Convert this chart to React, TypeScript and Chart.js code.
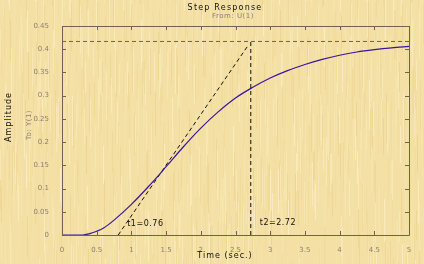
import React, { useEffect, useRef } from "react";
import { Chart, registerables } from "chart.js";

Chart.register(...registerables);

// Step response samples (time in seconds, amplitude)
const timeValues = [0, 0.25, 0.3, 0.4, 0.5, 0.6, 0.75, 1, 1.25, 1.5, 1.75, 2, 2.25, 2.5, 2.75, 3, 3.25, 3.5, 3.75, 4, 4.25, 4.5, 4.75, 5];
const amplitudeValues = [0, 0, 0, 0.003, 0.008, 0.015, 0.032, 0.066, 0.105, 0.147, 0.19, 0.23, 0.265, 0.295, 0.318, 0.338, 0.354, 0.367, 0.378, 0.387, 0.394, 0.399, 0.403, 0.406];

// Construction lines
const finalValue = 0.4167;
const t2 = 2.72;
const tangentX = [0.81, 2.69];
const tangentY = [0, 0.41];
const horizX = [0, 5];
const vertY = [0, finalValue];

// Axis ticks
const xTicks = [0, 0.5, 1, 1.5, 2, 2.5, 3, 3.5, 4, 4.5, 5];
const yTicks = [0, 0.05, 0.1, 0.15, 0.2, 0.25, 0.3, 0.35, 0.4, 0.45];

// Annotation labels
const t1Label = "t1=0.76";
const t2Label = "t2=2.72";
const t1LabelPos = [0.94, 0.024];
const t2LabelPos = [2.85, 0.026];

const FONT = "'DejaVu Sans', sans-serif";
const BG = "#f4e0a4";
const AXIS = "#6e6250";

const decorPlugin = {
  id: "decor",
  beforeDraw(chart: any) {
    const ctx = chart.ctx;
    ctx.save();
    ctx.fillStyle = BG;
    ctx.fillRect(0, 0, chart.width, chart.height);
    // subtle vertical wood-grain streaks (staggered segments)
    for (let x = 0; x < chart.width; x++) {
      const seg = 30 + Math.round(20 * Math.abs(Math.sin(x * 0.37)));
      const off = Math.round(seg * Math.abs(Math.sin(x * 1.31)));
      for (let b = -1; b * seg - off < chart.height; b++) {
        const y0 = b * seg - off;
        const s =
          Math.sin(x * 0.93 + b * 1.7) * 0.5 +
          Math.sin(x * 2.37 + b * 0.6) * 0.3 +
          Math.sin(x * 0.21 + b * 2.9) * 0.4;
        if (s > 0.35) {
          ctx.fillStyle = `rgba(255,250,225,${Math.min(0.45, (s - 0.35) * 0.6)})`;
          ctx.fillRect(x, y0, 1, seg);
        } else if (s < -0.45) {
          ctx.fillStyle = `rgba(225,190,110,${Math.min(0.35, (-s - 0.45) * 0.5)})`;
          ctx.fillRect(x, y0, 1, seg);
        }
      }
    }
    ctx.restore();
  },
  afterDatasetsDraw(chart: any) {
    const ctx = chart.ctx;
    const { left, right, top, bottom } = chart.chartArea;
    const xs = chart.scales.x;
    const ys = chart.scales.y;
    ctx.save();
    ctx.strokeStyle = AXIS;
    ctx.lineWidth = 1;
    ctx.beginPath();
    ctx.rect(Math.round(left) + 0.5, Math.round(top) + 0.5, Math.round(right - left), Math.round(bottom - top));
    ctx.stroke();
    const tl = 4;
    ctx.beginPath();
    xTicks.forEach((v) => {
      const px = Math.round(xs.getPixelForValue(v)) + 0.5;
      ctx.moveTo(px, bottom);
      ctx.lineTo(px, bottom - tl);
      ctx.moveTo(px, top);
      ctx.lineTo(px, top + tl);
    });
    yTicks.forEach((v) => {
      const py = Math.round(ys.getPixelForValue(v)) + 0.5;
      ctx.moveTo(left, py);
      ctx.lineTo(left + tl, py);
      ctx.moveTo(right, py);
      ctx.lineTo(right - tl, py);
    });
    ctx.stroke();
    ctx.restore();
  },
  afterDraw(chart: any) {
    const ctx = chart.ctx;
    const xs = chart.scales.x;
    const ys = chart.scales.y;
    ctx.save();
    ctx.textBaseline = "middle";
    ctx.textAlign = "center";
    ctx.fillStyle = "#111";
    ctx.font = `8px ${FONT}`;
    ctx.letterSpacing = "1.2px";
    ctx.fillText("Step Response", 225, 8);
    ctx.fillStyle = "#8a8070";
    ctx.font = `7px ${FONT}`;
    ctx.letterSpacing = "0.5px";
    ctx.fillText("From: U(1)", 233, 16);
    ctx.fillStyle = "#111";
    ctx.font = `8px ${FONT}`;
    ctx.letterSpacing = "1px";
    ctx.fillText("Time (sec.)", 225, 256);

    ctx.save();
    ctx.translate(9, 117);
    ctx.rotate(-Math.PI / 2);
    ctx.fillStyle = "#111";
    ctx.font = `8px ${FONT}`;
    ctx.letterSpacing = "1px";
    ctx.fillText("Amplitude", 0, 0);
    ctx.restore();

    ctx.save();
    ctx.translate(29, 125);
    ctx.rotate(-Math.PI / 2);
    ctx.fillStyle = "#8a8070";
    ctx.font = `7px ${FONT}`;
    ctx.letterSpacing = "0.5px";
    ctx.fillText("To: Y(1)", 0, 0);
    ctx.restore();

    ctx.fillStyle = "#111";
    ctx.textAlign = "left";
    ctx.font = `8px ${FONT}`;
    ctx.letterSpacing = "0.5px";
    ctx.fillText(t1Label, xs.getPixelForValue(t1LabelPos[0]), ys.getPixelForValue(t1LabelPos[1]));
    ctx.fillText(t2Label, xs.getPixelForValue(t2LabelPos[0]), ys.getPixelForValue(t2LabelPos[1]));
    ctx.restore();
  },
};

const fmt = (v: number) => String(Number(Number(v).toFixed(2)));

export default function App() {
  const ref = useRef<HTMLCanvasElement | null>(null);
  useEffect(() => {
    if (!ref.current) return;
    const dashed = (color: string) => ({
      borderColor: color,
      borderWidth: 1,
      borderDash: [4, 3],
      pointRadius: 0,
      showLine: true,
      fill: false,
    });
    const chart = new Chart(ref.current, {
      type: "scatter",
      data: {
        datasets: [
          {
            label: "response",
            data: timeValues.map((t, i) => ({ x: t, y: amplitudeValues[i] })),
            borderColor: "#3a14a0",
            borderWidth: 1.2,
            pointRadius: 0,
            showLine: true,
            cubicInterpolationMode: "monotone",
            fill: false,
          } as any,
          {
            label: "final",
            data: horizX.map((x) => ({ x, y: finalValue })),
            ...dashed("#6e6250"),
          } as any,
          {
            label: "t2",
            data: vertY.map((y) => ({ x: t2, y })),
            ...dashed("#111"),
          } as any,
          {
            label: "tangent",
            data: tangentX.map((x, i) => ({ x, y: tangentY[i] })),
            ...dashed("#111"),
          } as any,
        ],
      },
      options: {
        animation: false,
        responsive: false,
        maintainAspectRatio: false,
        layout: { padding: { left: 0, top: 26, right: 15, bottom: 0 } },
        plugins: { legend: { display: false }, tooltip: { enabled: false }, title: { display: false } },
        scales: {
          x: {
            type: "linear",
            min: 0,
            max: 5,
            afterBuildTicks: (s: any) => {
              s.ticks = xTicks.map((v) => ({ value: v }));
            },
            afterFit: (s: any) => {
              s.height = 29;
            },
            ticks: {
              color: "#8a8070",
              font: { size: 7, family: FONT },
              padding: 3,
              maxRotation: 0,
              autoSkip: false,
              callback: (v: any) => fmt(v),
            },
            grid: { display: false },
            border: { display: false },
          },
          y: {
            type: "linear",
            min: 0,
            max: 0.45,
            afterBuildTicks: (s: any) => {
              s.ticks = yTicks.map((v) => ({ value: v }));
            },
            afterFit: (s: any) => {
              s.width = 62;
            },
            ticks: {
              color: "#8a8070",
              font: { size: 7, family: FONT },
              padding: 5,
              autoSkip: false,
              callback: (v: any) => fmt(v),
            },
            grid: { display: false },
            border: { display: false },
          },
        },
      },
      plugins: [decorPlugin],
    } as any);
    return () => chart.destroy();
  }, []);
  return (
    <div style={{ position: "fixed", left: 0, top: 0, width: 424, height: 264 }}>
      <canvas ref={ref} width={424} height={264} style={{ width: 424, height: 264, display: "block" }} />
    </div>
  );
}
